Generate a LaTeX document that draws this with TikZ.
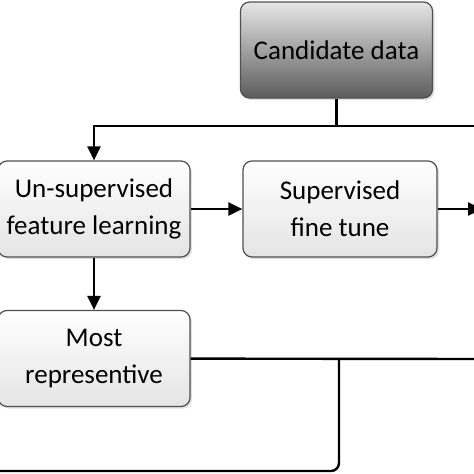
\documentclass[tikz,border=0pt]{standalone}
\usepackage{fontspec}
\setmainfont{Carlito}
\usepackage{tikz}
\usetikzlibrary{shapes, arrows.meta, positioning, shadows}
\definecolor{boxline}{HTML}{505050}
\definecolor{darkbot}{HTML}{5C5C5C}
\definecolor{darktop}{HTML}{E6E6E6}
\definecolor{litebot}{HTML}{E4E4E4}

\begin{document}
\begin{tikzpicture}
  [
    x=1pt, y=-1pt,
    Box/.style={rectangle, rounded corners=9pt, draw=boxline, line width=1.2pt,
      top color=white, bottom color=litebot, align=center,
      minimum width=192pt, minimum height=96pt,
      font=\fontsize{27}{37}\selectfont,
      drop shadow={opacity=0.25, shadow xshift=2pt, shadow yshift=-2pt}},
    Dark/.style={Box, top color=darktop, bottom color=darkbot},
    Line/.style={draw, line width=2.4pt},
    Arrow/.style={Line, -{Triangle[length=14pt, width=13pt]}}
  ]
  \useasboundingbox (0,0) rectangle (474,474);
  \clip (0,0) rectangle (474,474);
  % Nodes
  \node[Dark] (cand) at(336.5, 50) {Candidate data};
  \node[Box] (unsup) at(94, 209) {Un-supervised\\feature learning};
  \node[Box, minimum width=194pt] (sup) at(340, 209) {Supervised\\fine tune};
  \node[Box] (most) at(94, 358.5) {Most\\representive};
  \coordinate (split) at(480, 126);
  \coordinate (out) at(482, 209);
  \coordinate (rest) at(480, 359);
  \coordinate (join) at(339, 359);
  \coordinate (back) at(-5, 471);
  % Lines
  \path [Line] (cand) -- (cand |- split);
  \path [Arrow] (split) -| (unsup);
  \path [Arrow] (unsup) -- (sup);
  \path [Arrow] (sup) -- (out);
  \path [Arrow] (unsup) -- (most);
  \path [Line] (most) -- (rest);
  \path [Line, rounded corners=8pt] (join) |- (back);
\end{tikzpicture}
\end{document}
